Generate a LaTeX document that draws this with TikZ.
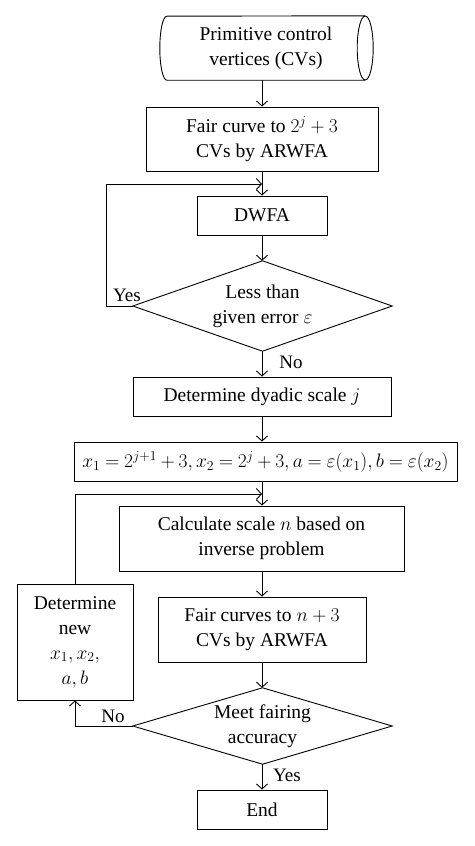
\RequirePackage{fix-cm}
\documentclass[tikz,border=0pt]{standalone}
\usepackage{fontspec}
\setmainfont{Liberation Serif}
\usetikzlibrary{arrows.meta}
\begin{document}
\begin{tikzpicture}[x=1pt,y=-1pt,
  txt/.style={font=\fontsize{19.5}{25}\selectfont, align=center, inner sep=0pt},
  box/.style={txt, draw, line width=0.9pt},
  plain/.style={txt},
  lbl/.style={font=\fontsize{19}{24}\selectfont, inner sep=0pt},
  arr/.style={-{Straight Barb[length=5pt,width=11pt]}, line width=0.9pt},
  ln/.style={line width=0.9pt}
]
\useasboundingbox (0,0) rectangle (474,846);
% terminal (cylinder)
\node[plain, minimum width=198pt, minimum height=64pt] (cv) at (266,48) {Primitive control\\vertices (CVs)};
\draw[ln] (cv.south east) -- (cv.south west) arc[start angle=90, end angle=270, x radius=7, y radius=32] -- (cv.north east);
\draw[ln] (cv.east) ellipse[x radius=8, y radius=32];
% boxes
\node[box, minimum width=232pt, minimum height=64pt] (fc) at (262,139) {Fair curve to $2^j+3$\\CVs by ARWFA};
\node[box, minimum width=130pt, minimum height=39pt] (dw) at (262,215.5) {DWFA};
\node[plain, minimum width=259pt, minimum height=90pt] (d1) at (262.5,306) {Less than\\given error $\varepsilon$};
\draw[ln] (d1.north) -- (d1.east) -- (d1.south) -- (d1.west) -- cycle;
\node[box, minimum width=258pt, minimum height=39pt] (dy) at (262,396.5) {Determine dyadic scale $j$};
\node[box, minimum width=383pt, minimum height=39pt] (xb) at (265.5,461.5) {\thickmuskip=4.5mu\medmuskip=3.5mu$x_1=2^{j+1}+3, x_2=2^j+3, a=\varepsilon(x_1), b=\varepsilon(x_2)$};
\node[box, minimum width=285pt, minimum height=65pt] (cs) at (261.5,538.5) {Calculate scale $n$ based on\\inverse problem};
\node[box, minimum width=116pt, minimum height=116pt] (dn) at (75,642) {Determine\\new\\$x_1,x_2,$\\$a,b$};
\node[box, minimum width=208pt, minimum height=65pt] (fn) at (262,629.5) {Fair curves to $n+3$\\CVs by ARWFA};
\node[plain, minimum width=259pt, minimum height=76pt] (d2) at (262.5,726) {Meet fairing\\accuracy};
\draw[ln] (d2.north) -- (d2.east) -- (d2.south) -- (d2.west) -- cycle;
\node[box, minimum width=130pt, minimum height=39pt] (en) at (262,809.5) {End};
% junctions
\coordinate (j1) at (262,184);
\coordinate (j2) at (262,494);
% connectors
\draw[arr] (fc.north |- cv.south) -- (fc.north);
\draw[arr] (fc.south) -- (dw.north);
\draw[arr] (dw.south) -- (dw.south |- d1.north);
\draw[arr] (d1.west) -- ++(-26,0) |- (j1);
\draw[arr] (dw.south |- d1.south) -- (dy.north);
\draw[arr] (dy.south) -- (dy.south |- xb.north);
\draw[arr] (dy.south |- xb.south) -- (dy.south |- cs.north);
\draw[arr] (dn.north) |- (j2);
\draw[arr] (fn.north |- cs.south) -- (fn.north);
\draw[arr] (fn.south) -- (fn.south |- d2.north);
\draw[arr] (d2.west) -| (dn.south);
\draw[arr] (en.north |- d2.south) -- (en.north);
% labels
\node[lbl] (yes1) at (127,295) {Yes};
\node[lbl] (no1) at (291,362) {No};
\node[lbl] (no2) at (113,716) {No};
\node[lbl] (yes2) at (287,775) {Yes};
\end{tikzpicture}
\end{document}
